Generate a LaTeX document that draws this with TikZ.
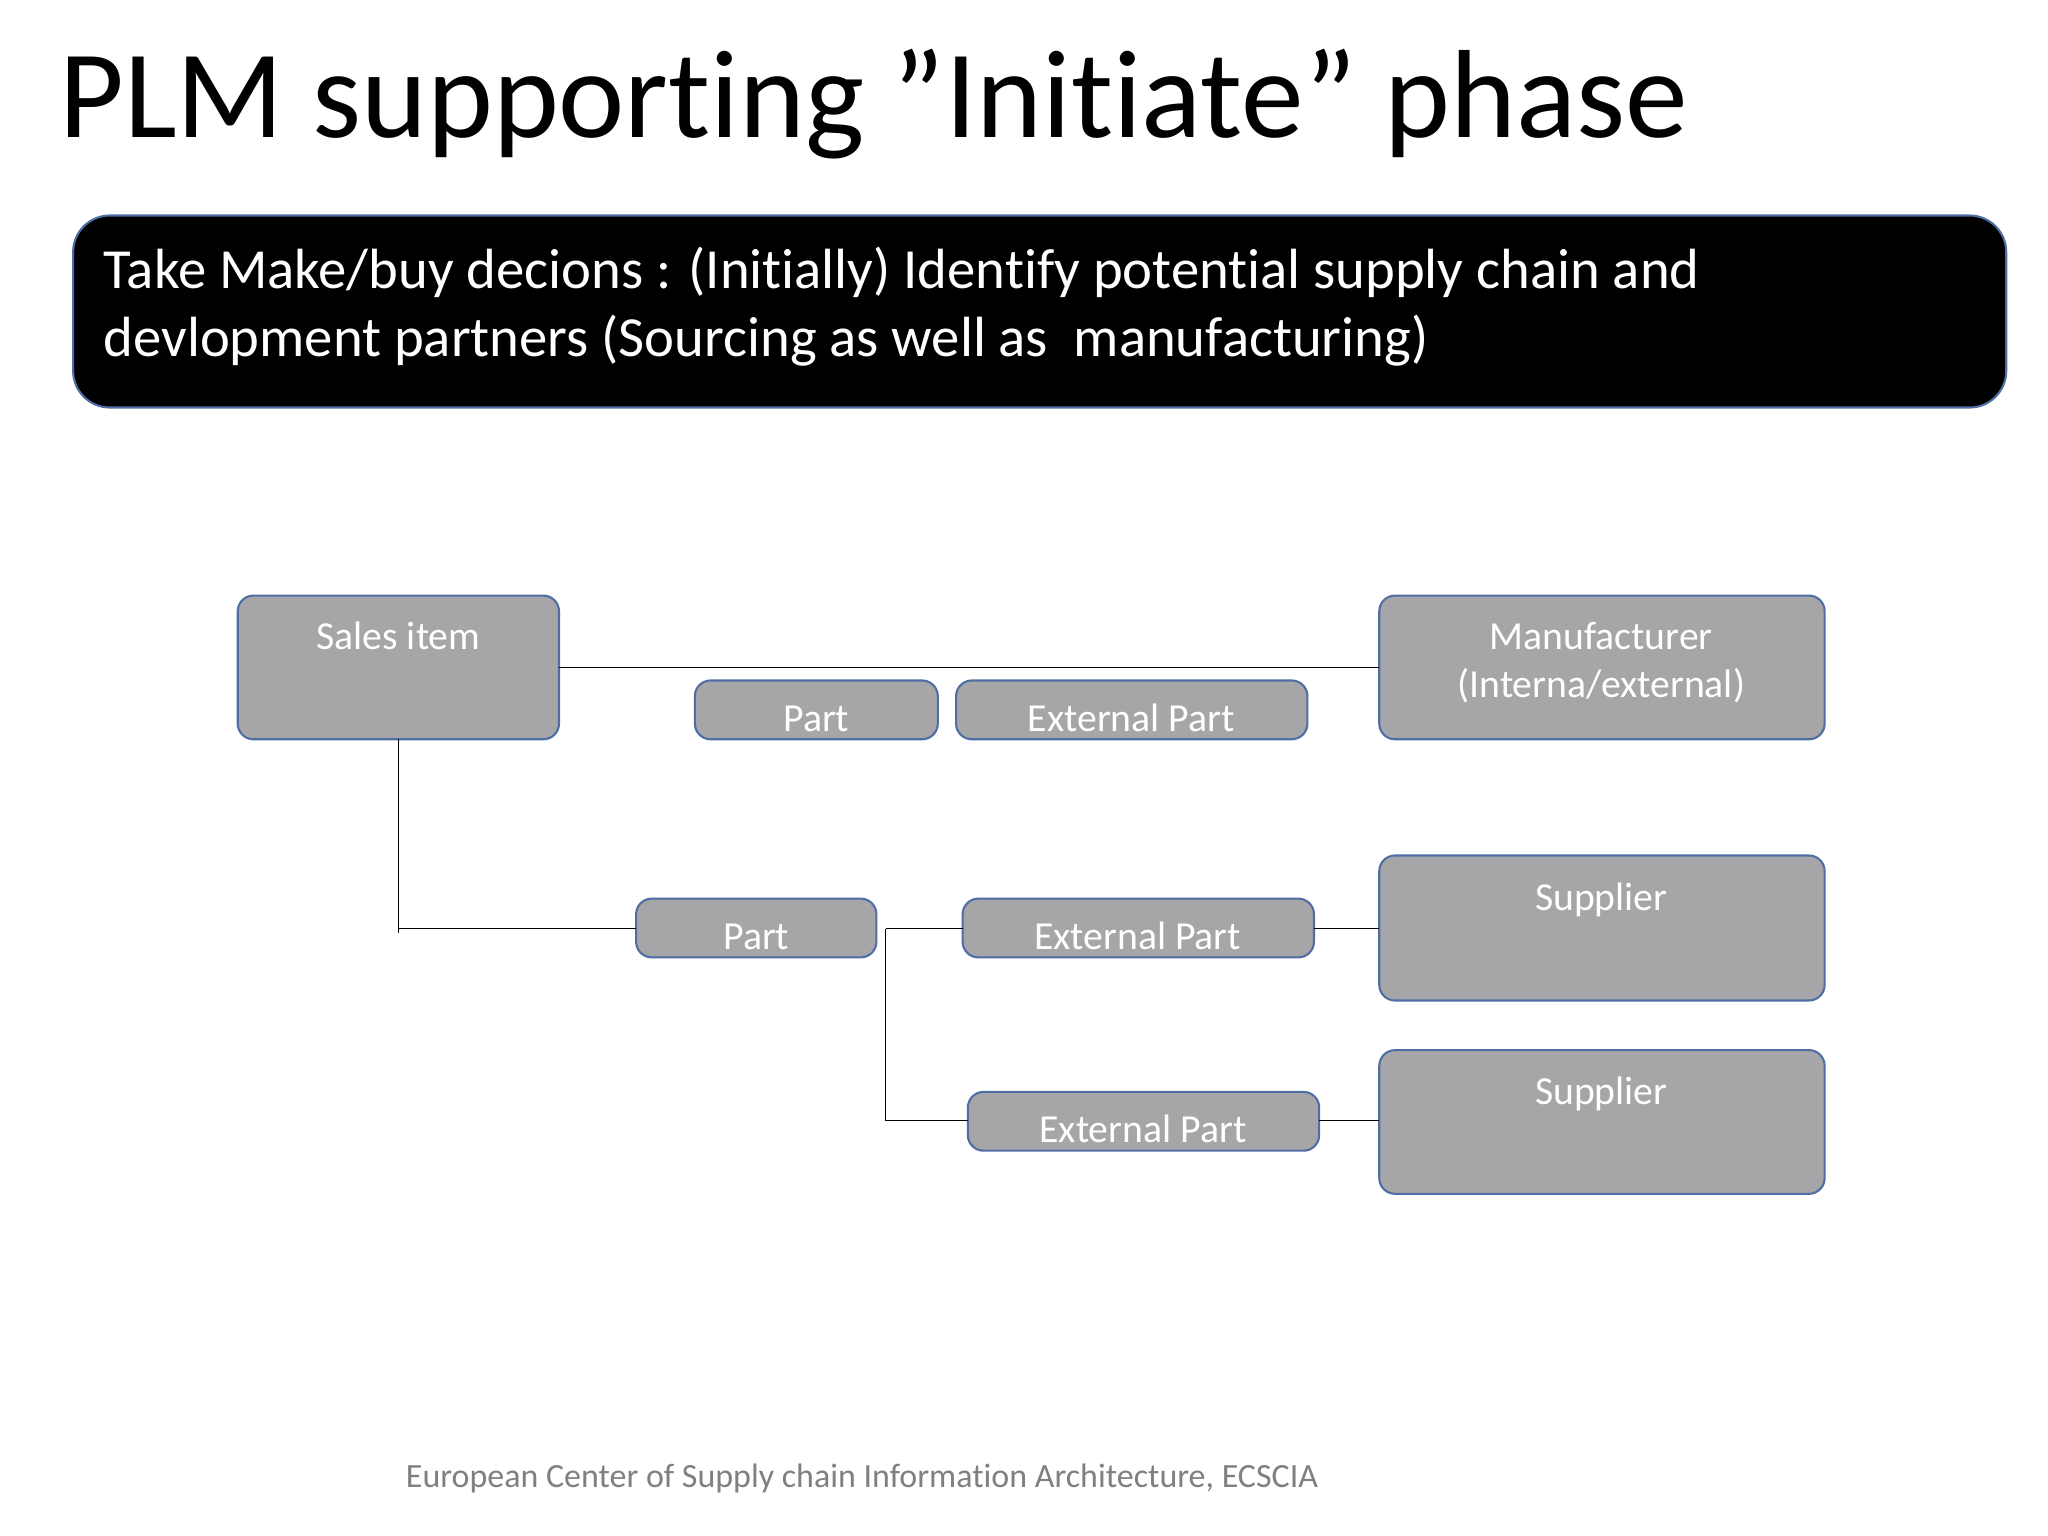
\documentclass[tikz,border=0pt]{standalone}
\usepackage{fontspec}
\setmainfont{Carlito}[Ligatures={NoCommon}]
\definecolor{bord}{HTML}{4F6EA3}
\definecolor{boxfill}{HTML}{A6A6A8}
\begin{document}
\begin{tikzpicture}[x=0.5pt,y=-0.5pt,
  box/.style={draw=bord,line width=0.8pt,fill=boxfill,rounded corners=6pt},
  lbl/.style={text=white,font=\fontsize{15.2}{17}\selectfont,inner sep=0pt,anchor=base},
  conn/.style={draw=black,line width=0.6pt}]
\useasboundingbox (0,0) rectangle (1568,1176);
\fill[white] (0,0) rectangle (1568,1176);
\node[anchor=base west,inner sep=0pt,font=\fontsize{48}{52}\selectfont] (title) at (45,105) {PLM supporting ”Initiate” phase};
\draw[fill=black,draw=bord,line width=0.8pt,rounded corners=14pt] (56,165) rectangle (1536,312);
\node[anchor=base west,inner sep=0pt,text=white,font=\fontsize{21.7}{26}\selectfont] (h1) at (79,221) {Take Make/buy decions : (Initially) Identify potential supply chain and};
\node[anchor=base west,inner sep=0pt,text=white,font=\fontsize{21.7}{26}\selectfont] (h2) at (79,273) {devlopment partners (Sourcing as well as\ \ manufacturing)};
% boxes
\path[box] (182,456) rectangle (428,566);
\path[box] (532,521) rectangle (718,566);
\path[box] (732,521) rectangle (1001,566);
\path[box] (1056,456) rectangle (1397,566);
\path[box] (1056,655) rectangle (1397,766);
\path[box] (1056,804) rectangle (1397,914);
\path[box] (487,688) rectangle (671,733);
\path[box] (737,688) rectangle (1006,733);
\path[box] (741,836) rectangle (1010,881);
% labels
\node[lbl] (sales) at (305,497) {Sales item};
\node[lbl] (p1) at (625,560) {Part};
\node[lbl] (e1) at (866,560) {External Part};
\node[lbl] (m1) at (1226,497) {Manufacturer};
\node[lbl] (m2) at (1226,534) {(Interna/external)};
\node[lbl] (sup1) at (1226,697) {Supplier};
\node[lbl] (sup2) at (1226,846) {Supplier};
\node[lbl] (p2) at (579,727) {Part};
\node[lbl] (e2) at (871,727) {External Part};
\node[lbl] (e3) at (875,875) {External Part};
% connectors
\coordinate (a1) at (428,511); \coordinate (a2) at (1056,511);
\draw[conn] (a1) -- (a2);
\coordinate (b1) at (305,566); \coordinate (b2) at (305,711); \coordinate (b3) at (487,711);
\draw[conn] (b1) -- (305,714); \draw[conn] (b2) -- (b3);
\coordinate (c1) at (678,711); \coordinate (c2) at (737,711); \coordinate (c3) at (741,858);
\draw[conn] (c1) -- (c2);
\draw[conn] (c1) -- (678,858) -- (c3);
\coordinate (d1) at (1006,711); \coordinate (d2) at (1056,711);
\draw[conn] (d1) -- (d2);
\coordinate (f1) at (1010,858); \coordinate (f2) at (1056,858);
\draw[conn] (f1) -- (f2);
\node[anchor=base,inner sep=0pt,text=gray,font=\fontsize{13}{15}\selectfont] (foot) at (660,1139) {European Center of Supply chain Information Architecture, ECSCIA};
\end{tikzpicture}
\end{document}
